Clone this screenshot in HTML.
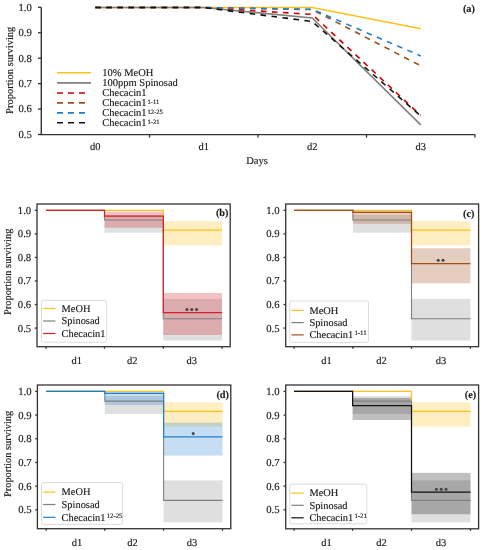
<!DOCTYPE html>
<html><head><meta charset="utf-8"><style>
html,body{margin:0;padding:0;background:#fff;}
svg{display:block;will-change:transform;}
text{font-family:"Liberation Serif", serif;fill:#1a1a1a;stroke:#1a1a1a;stroke-width:0.15px;text-rendering:geometricPrecision;}
</style></head><body>
<svg width="483" height="550" viewBox="0 0 483 550">
<rect width="483" height="550" fill="#fff"/>
<path d="M41.3 7.3 V134.6 H475" fill="none" stroke="#333333" stroke-width="1.4"/>
<line x1="38" y1="7.30" x2="41" y2="7.30" stroke="#333333" stroke-width="1.3"/>
<text x="31.80" y="10.70" font-size="10.7" text-anchor="end" font-weight="normal" >1.0</text>
<line x1="38" y1="32.74" x2="41" y2="32.74" stroke="#333333" stroke-width="1.3"/>
<text x="31.80" y="36.14" font-size="10.7" text-anchor="end" font-weight="normal" >0.9</text>
<line x1="38" y1="58.18" x2="41" y2="58.18" stroke="#333333" stroke-width="1.3"/>
<text x="31.80" y="61.58" font-size="10.7" text-anchor="end" font-weight="normal" >0.8</text>
<line x1="38" y1="83.62" x2="41" y2="83.62" stroke="#333333" stroke-width="1.3"/>
<text x="31.80" y="87.02" font-size="10.7" text-anchor="end" font-weight="normal" >0.7</text>
<line x1="38" y1="109.06" x2="41" y2="109.06" stroke="#333333" stroke-width="1.3"/>
<text x="31.80" y="112.46" font-size="10.7" text-anchor="end" font-weight="normal" >0.6</text>
<line x1="38" y1="134.50" x2="41" y2="134.50" stroke="#333333" stroke-width="1.3"/>
<text x="31.80" y="137.90" font-size="10.7" text-anchor="end" font-weight="normal" >0.5</text>
<line x1="149.5" y1="134.5" x2="149.5" y2="137.6" stroke="#333333" stroke-width="1.3"/>
<line x1="258" y1="134.5" x2="258" y2="137.6" stroke="#333333" stroke-width="1.3"/>
<line x1="366.5" y1="134.5" x2="366.5" y2="137.6" stroke="#333333" stroke-width="1.3"/>
<line x1="475" y1="134.5" x2="475" y2="137.6" stroke="#333333" stroke-width="1.3"/>
<text x="95.25" y="149.90" font-size="10.5" text-anchor="middle" font-weight="normal" >d0</text>
<text x="203.75" y="149.90" font-size="10.5" text-anchor="middle" font-weight="normal" >d1</text>
<text x="312.25" y="149.90" font-size="10.5" text-anchor="middle" font-weight="normal" >d2</text>
<text x="420.75" y="149.90" font-size="10.5" text-anchor="middle" font-weight="normal" >d3</text>
<text x="257.00" y="164.40" font-size="10.5" text-anchor="middle" font-weight="normal" >Days</text>
<text transform="translate(12.8 70.3) rotate(-90)" font-size="10.5" text-anchor="middle">Proportion surviving</text>
<text x="474.90" y="11.80" font-size="10.3" text-anchor="end" font-weight="bold" >(a)</text>
<polyline points="95.25,7.55 203.75,7.55 312.25,7.55 420.75,28.67" fill="none" stroke="#fcc21b" stroke-width="1.6"/>
<polyline points="95.25,7.55 203.75,7.55 312.25,17.98 420.75,124.83" fill="none" stroke="#808080" stroke-width="1.6"/>
<polyline points="95.25,7.55 203.75,7.55 312.25,14.42 420.75,115.42" fill="none" stroke="#cc0000" stroke-width="1.6" stroke-dasharray="5.6,5.45"/>
<polyline points="95.25,7.55 203.75,7.55 312.25,9.59 420.75,65.81" fill="none" stroke="#a24f1c" stroke-width="1.6" stroke-dasharray="5.6,5.45"/>
<polyline points="95.25,7.55 203.75,7.55 312.25,9.33 420.75,55.89" fill="none" stroke="#1f80d0" stroke-width="1.6" stroke-dasharray="5.6,5.45"/>
<polyline points="95.25,7.55 203.75,7.55 312.25,21.54 420.75,115.92" fill="none" stroke="#111111" stroke-width="1.6" stroke-dasharray="5.6,5.45"/>
<line x1="57" y1="72.7" x2="91" y2="72.7" stroke="#fcc21b" stroke-width="1.6"/>
<text x="102.30" y="76.10" font-size="10.5" text-anchor="start" font-weight="normal" >10% MeOH</text>
<line x1="57" y1="82.9" x2="91" y2="82.9" stroke="#808080" stroke-width="1.6"/>
<text x="102.30" y="86.30" font-size="10.5" text-anchor="start" font-weight="normal" >100ppm Spinosad</text>
<line x1="57" y1="93.0" x2="86" y2="93.0" stroke="#cc0000" stroke-width="1.6" stroke-dasharray="6,5"/>
<text x="102.30" y="96.40" font-size="10.5" text-anchor="start" font-weight="normal" >Checacin1</text>
<line x1="57" y1="102.9" x2="86" y2="102.9" stroke="#a24f1c" stroke-width="1.6" stroke-dasharray="6,5"/>
<text x="102.30" y="106.30" font-size="10.5" text-anchor="start" font-weight="normal" >Checacin1<tspan font-size="6.6" dx="0.9" dy="-2.7">1-11</tspan></text>
<line x1="57" y1="112.9" x2="86" y2="112.9" stroke="#1f80d0" stroke-width="1.6" stroke-dasharray="6,5"/>
<text x="102.30" y="116.30" font-size="10.5" text-anchor="start" font-weight="normal" >Checacin1<tspan font-size="6.6" dx="0.9" dy="-2.7">12-25</tspan></text>
<line x1="57" y1="122.8" x2="86" y2="122.8" stroke="#111111" stroke-width="1.6" stroke-dasharray="6,5"/>
<text x="102.30" y="126.20" font-size="10.5" text-anchor="start" font-weight="normal" >Checacin1<tspan font-size="6.6" dx="0.9" dy="-2.7">1-21</tspan></text>
<rect x="163.30" y="221.14" width="58.70" height="24.27" fill="#fcc21b" fill-opacity="0.27"/>
<rect x="104.50" y="215.01" width="58.80" height="17.67" fill="#808080" fill-opacity="0.25"/>
<rect x="163.30" y="298.89" width="58.70" height="41.70" fill="#808080" fill-opacity="0.25"/>
<rect x="104.50" y="211.71" width="58.80" height="16.02" fill="#d2232a" fill-opacity="0.28"/>
<rect x="163.30" y="293.00" width="58.70" height="41.94" fill="#d2232a" fill-opacity="0.28"/>
<path d="M46.00 210.30 H104.50 V210.30 H163.30 V230.09 H222.00" fill="none" stroke="#fcc21b" stroke-width="1.25"/>
<path d="M46.00 210.30 H104.50 V219.96 H163.30 V318.68 H222.00" fill="none" stroke="#808080" stroke-width="1.1"/>
<path d="M46.00 210.30 H104.50 V216.19 H163.30 V312.55 H222.00" fill="none" stroke="#d2232a" stroke-width="1.2"/>
<circle cx="187.00" cy="309.6" r="1.5" fill="#444"/>
<circle cx="191.80" cy="309.6" r="1.5" fill="#444"/>
<circle cx="196.60" cy="309.6" r="1.5" fill="#444"/>
<rect x="37" y="204.0" width="193.20" height="142.70" fill="none" stroke="#333333" stroke-width="1.3"/>
<line x1="34.80" y1="210.30" x2="37" y2="210.30" stroke="#333333" stroke-width="1.3"/>
<text x="31.20" y="213.80" font-size="10.7" text-anchor="end" font-weight="normal" >1.0</text>
<line x1="34.80" y1="233.86" x2="37" y2="233.86" stroke="#333333" stroke-width="1.3"/>
<text x="31.20" y="237.36" font-size="10.7" text-anchor="end" font-weight="normal" >0.9</text>
<line x1="34.80" y1="257.42" x2="37" y2="257.42" stroke="#333333" stroke-width="1.3"/>
<text x="31.20" y="260.92" font-size="10.7" text-anchor="end" font-weight="normal" >0.8</text>
<line x1="34.80" y1="280.98" x2="37" y2="280.98" stroke="#333333" stroke-width="1.3"/>
<text x="31.20" y="284.48" font-size="10.7" text-anchor="end" font-weight="normal" >0.7</text>
<line x1="34.80" y1="304.54" x2="37" y2="304.54" stroke="#333333" stroke-width="1.3"/>
<text x="31.20" y="308.04" font-size="10.7" text-anchor="end" font-weight="normal" >0.6</text>
<line x1="34.80" y1="328.10" x2="37" y2="328.10" stroke="#333333" stroke-width="1.3"/>
<text x="31.20" y="331.60" font-size="10.7" text-anchor="end" font-weight="normal" >0.5</text>
<line x1="46.00" y1="346.7" x2="46.00" y2="348.70" stroke="#333333" stroke-width="1.3"/>
<line x1="104.50" y1="346.7" x2="104.50" y2="348.70" stroke="#333333" stroke-width="1.3"/>
<line x1="163.30" y1="346.7" x2="163.30" y2="348.70" stroke="#333333" stroke-width="1.3"/>
<line x1="222.00" y1="346.7" x2="222.00" y2="348.70" stroke="#333333" stroke-width="1.3"/>
<text x="76.80" y="363.70" font-size="10.5" text-anchor="middle" font-weight="normal" >d1</text>
<text x="132.20" y="363.70" font-size="10.5" text-anchor="middle" font-weight="normal" >d2</text>
<text x="191.80" y="363.70" font-size="10.5" text-anchor="middle" font-weight="normal" >d3</text>
<text transform="translate(10.8 271.8) rotate(-90)" font-size="10.4" text-anchor="middle">Proportion surviving</text>
<text x="228.50" y="216.40" font-size="10.3" text-anchor="end" font-weight="bold" >(b)</text>
<rect x="41.50" y="300.40" width="65.20" height="41.80" rx="2" fill="#fff" fill-opacity="0.85" stroke="#d8d8d8" stroke-width="0.9"/>
<line x1="43.10" y1="308.5" x2="55.40" y2="308.5" stroke="#fcc21b" stroke-width="1.2"/>
<text x="61.60" y="311.85" font-size="10.4" text-anchor="start" font-weight="normal" >MeOH</text>
<line x1="43.10" y1="321.0" x2="55.40" y2="321.0" stroke="#808080" stroke-width="1.2"/>
<text x="61.60" y="324.35" font-size="10.4" text-anchor="start" font-weight="normal" >Spinosad</text>
<line x1="43.10" y1="333.5" x2="55.40" y2="333.5" stroke="#d2232a" stroke-width="1.2"/>
<text x="61.60" y="336.85" font-size="10.4" text-anchor="start" font-weight="normal" >Checacin1</text>
<rect x="411.50" y="221.14" width="58.90" height="24.27" fill="#fcc21b" fill-opacity="0.27"/>
<rect x="352.90" y="215.01" width="58.60" height="17.67" fill="#808080" fill-opacity="0.25"/>
<rect x="411.50" y="298.89" width="58.90" height="41.70" fill="#808080" fill-opacity="0.25"/>
<rect x="352.90" y="210.30" width="58.60" height="13.43" fill="#a24f1c" fill-opacity="0.28"/>
<rect x="411.50" y="248.23" width="58.90" height="35.10" fill="#a24f1c" fill-opacity="0.28"/>
<path d="M294.10 210.30 H352.90 V210.30 H411.50 V230.09 H470.40" fill="none" stroke="#fcc21b" stroke-width="1.25"/>
<path d="M294.10 210.30 H352.90 V219.96 H411.50 V318.68 H470.40" fill="none" stroke="#808080" stroke-width="1.1"/>
<path d="M294.10 210.30 H352.90 V212.42 H411.50 V263.55 H470.40" fill="none" stroke="#a24f1c" stroke-width="1.2"/>
<circle cx="438.20" cy="260.2" r="1.5" fill="#444"/>
<circle cx="443.00" cy="260.2" r="1.5" fill="#444"/>
<rect x="285.7" y="204.0" width="192.90" height="142.70" fill="none" stroke="#333333" stroke-width="1.3"/>
<line x1="283.50" y1="210.30" x2="285.7" y2="210.30" stroke="#333333" stroke-width="1.3"/>
<text x="279.60" y="213.80" font-size="10.7" text-anchor="end" font-weight="normal" >1.0</text>
<line x1="283.50" y1="233.86" x2="285.7" y2="233.86" stroke="#333333" stroke-width="1.3"/>
<text x="279.60" y="237.36" font-size="10.7" text-anchor="end" font-weight="normal" >0.9</text>
<line x1="283.50" y1="257.42" x2="285.7" y2="257.42" stroke="#333333" stroke-width="1.3"/>
<text x="279.60" y="260.92" font-size="10.7" text-anchor="end" font-weight="normal" >0.8</text>
<line x1="283.50" y1="280.98" x2="285.7" y2="280.98" stroke="#333333" stroke-width="1.3"/>
<text x="279.60" y="284.48" font-size="10.7" text-anchor="end" font-weight="normal" >0.7</text>
<line x1="283.50" y1="304.54" x2="285.7" y2="304.54" stroke="#333333" stroke-width="1.3"/>
<text x="279.60" y="308.04" font-size="10.7" text-anchor="end" font-weight="normal" >0.6</text>
<line x1="283.50" y1="328.10" x2="285.7" y2="328.10" stroke="#333333" stroke-width="1.3"/>
<text x="279.60" y="331.60" font-size="10.7" text-anchor="end" font-weight="normal" >0.5</text>
<line x1="294.10" y1="346.7" x2="294.10" y2="348.70" stroke="#333333" stroke-width="1.3"/>
<line x1="352.90" y1="346.7" x2="352.90" y2="348.70" stroke="#333333" stroke-width="1.3"/>
<line x1="411.50" y1="346.7" x2="411.50" y2="348.70" stroke="#333333" stroke-width="1.3"/>
<line x1="470.40" y1="346.7" x2="470.40" y2="348.70" stroke="#333333" stroke-width="1.3"/>
<text x="326.50" y="363.70" font-size="10.5" text-anchor="middle" font-weight="normal" >d1</text>
<text x="381.50" y="363.70" font-size="10.5" text-anchor="middle" font-weight="normal" >d2</text>
<text x="441.00" y="363.70" font-size="10.5" text-anchor="middle" font-weight="normal" >d3</text>
<text x="474.40" y="217.40" font-size="10.3" text-anchor="end" font-weight="bold" >(c)</text>
<rect x="289.80" y="301.00" width="78.70" height="41.40" rx="2" fill="#fff" fill-opacity="0.85" stroke="#d8d8d8" stroke-width="0.9"/>
<line x1="291.40" y1="310.4" x2="303.70" y2="310.4" stroke="#fcc21b" stroke-width="1.2"/>
<text x="309.40" y="313.75" font-size="10.4" text-anchor="start" font-weight="normal" >MeOH</text>
<line x1="291.40" y1="322.6" x2="303.70" y2="322.6" stroke="#808080" stroke-width="1.2"/>
<text x="309.40" y="325.95" font-size="10.4" text-anchor="start" font-weight="normal" >Spinosad</text>
<line x1="291.40" y1="334.9" x2="303.70" y2="334.9" stroke="#a24f1c" stroke-width="1.2"/>
<text x="309.40" y="338.25" font-size="10.4" text-anchor="start" font-weight="normal" >Checacin1<tspan font-size="6.8" dx="1.2" dy="-3.0">1-11</tspan></text>
<rect x="163.60" y="402.29" width="58.90" height="24.39" fill="#fcc21b" fill-opacity="0.27"/>
<rect x="104.80" y="396.14" width="58.80" height="17.76" fill="#808080" fill-opacity="0.25"/>
<rect x="163.60" y="480.44" width="58.90" height="41.91" fill="#808080" fill-opacity="0.25"/>
<rect x="104.80" y="391.40" width="58.80" height="13.50" fill="#1f80d0" fill-opacity="0.26"/>
<rect x="163.60" y="422.66" width="58.90" height="32.92" fill="#1f80d0" fill-opacity="0.26"/>
<path d="M46.20 391.40 H104.80 V391.40 H163.60 V411.29 H222.50" fill="none" stroke="#fcc21b" stroke-width="1.25"/>
<path d="M46.20 391.40 H104.80 V401.11 H163.60 V500.33 H222.50" fill="none" stroke="#808080" stroke-width="1.1"/>
<path d="M46.20 391.40 H104.80 V393.41 H163.60 V436.87 H222.50" fill="none" stroke="#1f80d0" stroke-width="1.2"/>
<circle cx="193.20" cy="433.4" r="1.5" fill="#444"/>
<rect x="37.4" y="385.0" width="193.40" height="143.70" fill="none" stroke="#333333" stroke-width="1.3"/>
<line x1="35.20" y1="391.40" x2="37.4" y2="391.40" stroke="#333333" stroke-width="1.3"/>
<text x="31.50" y="394.90" font-size="10.7" text-anchor="end" font-weight="normal" >1.0</text>
<line x1="35.20" y1="415.08" x2="37.4" y2="415.08" stroke="#333333" stroke-width="1.3"/>
<text x="31.50" y="418.58" font-size="10.7" text-anchor="end" font-weight="normal" >0.9</text>
<line x1="35.20" y1="438.76" x2="37.4" y2="438.76" stroke="#333333" stroke-width="1.3"/>
<text x="31.50" y="442.26" font-size="10.7" text-anchor="end" font-weight="normal" >0.8</text>
<line x1="35.20" y1="462.44" x2="37.4" y2="462.44" stroke="#333333" stroke-width="1.3"/>
<text x="31.50" y="465.94" font-size="10.7" text-anchor="end" font-weight="normal" >0.7</text>
<line x1="35.20" y1="486.12" x2="37.4" y2="486.12" stroke="#333333" stroke-width="1.3"/>
<text x="31.50" y="489.62" font-size="10.7" text-anchor="end" font-weight="normal" >0.6</text>
<line x1="35.20" y1="509.80" x2="37.4" y2="509.80" stroke="#333333" stroke-width="1.3"/>
<text x="31.50" y="513.30" font-size="10.7" text-anchor="end" font-weight="normal" >0.5</text>
<line x1="46.20" y1="528.7" x2="46.20" y2="530.70" stroke="#333333" stroke-width="1.3"/>
<line x1="104.80" y1="528.7" x2="104.80" y2="530.70" stroke="#333333" stroke-width="1.3"/>
<line x1="163.60" y1="528.7" x2="163.60" y2="530.70" stroke="#333333" stroke-width="1.3"/>
<line x1="222.50" y1="528.7" x2="222.50" y2="530.70" stroke="#333333" stroke-width="1.3"/>
<text x="77.00" y="545.70" font-size="10.5" text-anchor="middle" font-weight="normal" >d1</text>
<text x="132.50" y="545.70" font-size="10.5" text-anchor="middle" font-weight="normal" >d2</text>
<text x="192.00" y="545.70" font-size="10.5" text-anchor="middle" font-weight="normal" >d3</text>
<text transform="translate(10.9 453.9) rotate(-90)" font-size="10.4" text-anchor="middle">Proportion surviving</text>
<text x="229.00" y="397.50" font-size="10.3" text-anchor="end" font-weight="bold" >(d)</text>
<rect x="41.50" y="482.50" width="81.10" height="41.90" rx="2" fill="#fff" fill-opacity="0.85" stroke="#d8d8d8" stroke-width="0.9"/>
<line x1="43.10" y1="492.1" x2="55.40" y2="492.1" stroke="#fcc21b" stroke-width="1.2"/>
<text x="61.60" y="495.45" font-size="10.4" text-anchor="start" font-weight="normal" >MeOH</text>
<line x1="43.10" y1="504.5" x2="55.40" y2="504.5" stroke="#808080" stroke-width="1.2"/>
<text x="61.60" y="507.85" font-size="10.4" text-anchor="start" font-weight="normal" >Spinosad</text>
<line x1="43.10" y1="517.3" x2="55.40" y2="517.3" stroke="#1f80d0" stroke-width="1.2"/>
<text x="61.60" y="520.65" font-size="10.4" text-anchor="start" font-weight="normal" >Checacin1<tspan font-size="6.8" dx="1.2" dy="-3.0">12-25</tspan></text>
<rect x="411.50" y="402.29" width="59.00" height="24.39" fill="#fcc21b" fill-opacity="0.27"/>
<rect x="352.60" y="396.14" width="58.90" height="17.76" fill="#808080" fill-opacity="0.25"/>
<rect x="411.50" y="480.44" width="59.00" height="41.91" fill="#808080" fill-opacity="0.25"/>
<rect x="352.60" y="398.03" width="58.90" height="22.02" fill="#000" fill-opacity="0.25"/>
<rect x="411.50" y="472.86" width="59.00" height="41.44" fill="#000" fill-opacity="0.25"/>
<path d="M294.10 391.40 H352.60 V391.40 H411.50 V411.29 H470.50" fill="none" stroke="#fcc21b" stroke-width="1.25"/>
<path d="M294.10 391.40 H352.60 V401.11 H411.50 V500.33 H470.50" fill="none" stroke="#808080" stroke-width="1.1"/>
<path d="M294.10 391.40 H352.60 V405.61 H411.50 V492.04 H470.50" fill="none" stroke="#111111" stroke-width="1.2"/>
<circle cx="436.40" cy="489.3" r="1.5" fill="#444"/>
<circle cx="441.20" cy="489.3" r="1.5" fill="#444"/>
<circle cx="446.00" cy="489.3" r="1.5" fill="#444"/>
<rect x="285.7" y="385.0" width="192.90" height="143.80" fill="none" stroke="#333333" stroke-width="1.3"/>
<line x1="283.50" y1="391.40" x2="285.7" y2="391.40" stroke="#333333" stroke-width="1.3"/>
<text x="279.60" y="394.90" font-size="10.7" text-anchor="end" font-weight="normal" >1.0</text>
<line x1="283.50" y1="415.08" x2="285.7" y2="415.08" stroke="#333333" stroke-width="1.3"/>
<text x="279.60" y="418.58" font-size="10.7" text-anchor="end" font-weight="normal" >0.9</text>
<line x1="283.50" y1="438.76" x2="285.7" y2="438.76" stroke="#333333" stroke-width="1.3"/>
<text x="279.60" y="442.26" font-size="10.7" text-anchor="end" font-weight="normal" >0.8</text>
<line x1="283.50" y1="462.44" x2="285.7" y2="462.44" stroke="#333333" stroke-width="1.3"/>
<text x="279.60" y="465.94" font-size="10.7" text-anchor="end" font-weight="normal" >0.7</text>
<line x1="283.50" y1="486.12" x2="285.7" y2="486.12" stroke="#333333" stroke-width="1.3"/>
<text x="279.60" y="489.62" font-size="10.7" text-anchor="end" font-weight="normal" >0.6</text>
<line x1="283.50" y1="509.80" x2="285.7" y2="509.80" stroke="#333333" stroke-width="1.3"/>
<text x="279.60" y="513.30" font-size="10.7" text-anchor="end" font-weight="normal" >0.5</text>
<line x1="294.10" y1="528.8" x2="294.10" y2="530.80" stroke="#333333" stroke-width="1.3"/>
<line x1="352.60" y1="528.8" x2="352.60" y2="530.80" stroke="#333333" stroke-width="1.3"/>
<line x1="411.50" y1="528.8" x2="411.50" y2="530.80" stroke="#333333" stroke-width="1.3"/>
<line x1="470.50" y1="528.8" x2="470.50" y2="530.80" stroke="#333333" stroke-width="1.3"/>
<text x="326.50" y="545.80" font-size="10.5" text-anchor="middle" font-weight="normal" >d1</text>
<text x="381.50" y="545.80" font-size="10.5" text-anchor="middle" font-weight="normal" >d2</text>
<text x="441.00" y="545.80" font-size="10.5" text-anchor="middle" font-weight="normal" >d3</text>
<text x="476.20" y="397.60" font-size="10.3" text-anchor="end" font-weight="bold" >(e)</text>
<rect x="289.80" y="484.20" width="76.90" height="39.60" rx="2" fill="#fff" fill-opacity="0.85" stroke="#d8d8d8" stroke-width="0.9"/>
<line x1="291.40" y1="493.1" x2="303.70" y2="493.1" stroke="#fcc21b" stroke-width="1.2"/>
<text x="309.40" y="496.45" font-size="10.4" text-anchor="start" font-weight="normal" >MeOH</text>
<line x1="291.40" y1="505.3" x2="303.70" y2="505.3" stroke="#808080" stroke-width="1.2"/>
<text x="309.40" y="508.65" font-size="10.4" text-anchor="start" font-weight="normal" >Spinosad</text>
<line x1="291.40" y1="517.8" x2="303.70" y2="517.8" stroke="#111111" stroke-width="1.2"/>
<text x="309.40" y="521.15" font-size="10.4" text-anchor="start" font-weight="normal" >Checacin1<tspan font-size="6.8" dx="1.2" dy="-3.0">1-21</tspan></text>
</svg></body></html>
